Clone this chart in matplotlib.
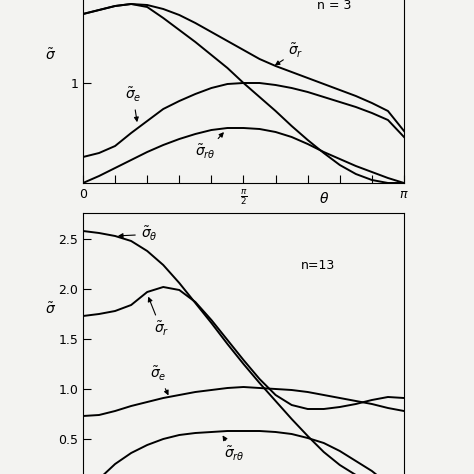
import numpy as np
import matplotlib.pyplot as plt

# theta in units of pi
# ---- n = 3 ----
th3 = [0, 0.05, 0.1, 0.15, 0.2, 0.25, 0.3, 0.35, 0.4, 0.45, 0.5, 0.55, 0.6, 0.65, 0.7, 0.75, 0.8, 0.85, 0.9, 0.95, 1.0]
s_theta3 = [1.69, 1.73, 1.77, 1.79, 1.76, 1.65, 1.53, 1.41, 1.28, 1.15, 1.0, 0.86, 0.72, 0.57, 0.43, 0.30, 0.18, 0.09, 0.03, 0.0, 0.0]
s_r3 = [1.69, 1.73, 1.77, 1.79, 1.78, 1.74, 1.68, 1.60, 1.51, 1.42, 1.33, 1.24, 1.17, 1.11, 1.05, 0.99, 0.93, 0.87, 0.80, 0.72, 0.52]
s_e3 = [0.26, 0.30, 0.37, 0.50, 0.62, 0.74, 0.82, 0.89, 0.95, 0.99, 1.0, 1.0, 0.98, 0.95, 0.91, 0.86, 0.81, 0.76, 0.70, 0.63, 0.46]
s_rt3 = [0.0, 0.07, 0.15, 0.23, 0.31, 0.38, 0.44, 0.49, 0.53, 0.55, 0.55, 0.54, 0.51, 0.46, 0.39, 0.31, 0.24, 0.17, 0.11, 0.05, 0.0]

# ---- n = 13 ----
th13 = [0, 0.05, 0.1, 0.15, 0.2, 0.25, 0.3, 0.35, 0.4, 0.45, 0.5, 0.55, 0.6, 0.65, 0.7, 0.75, 0.8, 0.85, 0.9, 0.95, 1.0]
s_theta13 = [2.58, 2.56, 2.53, 2.48, 2.38, 2.24, 2.06, 1.86, 1.66, 1.45, 1.25, 1.06, 0.88, 0.70, 0.53, 0.37, 0.24, 0.14, 0.05, -0.05, -0.15]
s_r13 = [1.73, 1.75, 1.78, 1.84, 1.97, 2.02, 1.99, 1.87, 1.69, 1.49, 1.29, 1.10, 0.94, 0.84, 0.80, 0.80, 0.82, 0.85, 0.89, 0.92, 0.91]
s_e13 = [0.73, 0.74, 0.78, 0.83, 0.87, 0.91, 0.94, 0.97, 0.99, 1.01, 1.02, 1.01, 1.0, 0.99, 0.97, 0.94, 0.91, 0.88, 0.85, 0.81, 0.78]
s_rt13 = [0.0, 0.10, 0.25, 0.36, 0.44, 0.50, 0.54, 0.56, 0.57, 0.58, 0.58, 0.58, 0.57, 0.55, 0.51, 0.46, 0.38, 0.28, 0.18, 0.05, -0.05]

bg = '#f3f3f1'
lw = 1.4
fig = plt.figure(figsize=(4.74, 4.74), dpi=100, facecolor=bg)

# top panel (n=3)
ax1 = fig.add_axes([83/474, 1-183/474, 321/474, 186/474], facecolor=bg)
for y in (s_theta3, s_r3, s_e3, s_rt3):
    ax1.plot(np.array(th3)*np.pi, y, color='k', lw=lw)
ax1.set_xlim(0, np.pi)
ax1.set_ylim(0, 1.86)
ax1.set_xticks(np.arange(0, 1.01, 0.1)*np.pi)
ax1.set_xticklabels(['0', '', '', '', '', r'$\frac{\pi}{2}$', '', '', '', '', r'$\pi$'])
ax1.set_yticks([1])
ax1.set_yticklabels(['1'])
ax1.tick_params(direction='in', length=6, labelsize=9)
ax1.text(0.75*np.pi, -0.2, r'$\theta$', fontsize=10, ha='center')
ax1.text(-0.1*np.pi, 1.23, r'$\tilde{\sigma}$', fontsize=10, ha='center')
ax1.text(0.73*np.pi, 1.74, 'n = 3', fontsize=9)
kw = dict(arrowprops=dict(arrowstyle='-|>', color='k', lw=0.8, mutation_scale=7), fontsize=10)
ax1.annotate(r'$\tilde{\sigma}_r$', xy=(0.59*np.pi, 1.16), xytext=(0.64*np.pi, 1.27), **kw)
ax1.annotate(r'$\tilde{\sigma}_e$', xy=(0.17*np.pi, 0.58), xytext=(0.13*np.pi, 0.83), **kw)
ax1.annotate(r'$\tilde{\sigma}_{r\theta}$', xy=(0.445*np.pi, 0.53), xytext=(0.35*np.pi, 0.26), **kw)

# bottom panel (n=13)
ax2 = fig.add_axes([83/474, -15/474, 321/474, 276/474], facecolor=bg)
for y in (s_theta13, s_r13, s_e13, s_rt13):
    ax2.plot(np.array(th13)*np.pi, y, color='k', lw=lw)
ax2.set_xlim(0, np.pi)
ax2.set_ylim(0, 2.76)
ax2.set_xticks([])
ax2.set_yticks([0.5, 1.0, 1.5, 2.0, 2.5])
ax2.set_yticklabels(['0.5', '1.0', '1.5', '2.0', '2.5'])
ax2.tick_params(direction='in', length=6, labelsize=9)
ax2.text(-0.1*np.pi, 1.75, r'$\tilde{\sigma}$', fontsize=10, ha='center')
ax2.text(0.68*np.pi, 2.2, 'n=13', fontsize=9)
ax2.annotate(r'$\tilde{\sigma}_\theta$', xy=(0.1*np.pi, 2.53), xytext=(0.18*np.pi, 2.5), **kw)
ax2.annotate(r'$\tilde{\sigma}_r$', xy=(0.2*np.pi, 1.95), xytext=(0.22*np.pi, 1.55), **kw)
ax2.annotate(r'$\tilde{\sigma}_e$', xy=(0.27*np.pi, 0.91), xytext=(0.21*np.pi, 1.1), **kw)
ax2.annotate(r'$\tilde{\sigma}_{r\theta}$', xy=(0.43*np.pi, 0.56), xytext=(0.44*np.pi, 0.3), **kw)

fig.savefig('out.png', dpi=100, facecolor=bg)
